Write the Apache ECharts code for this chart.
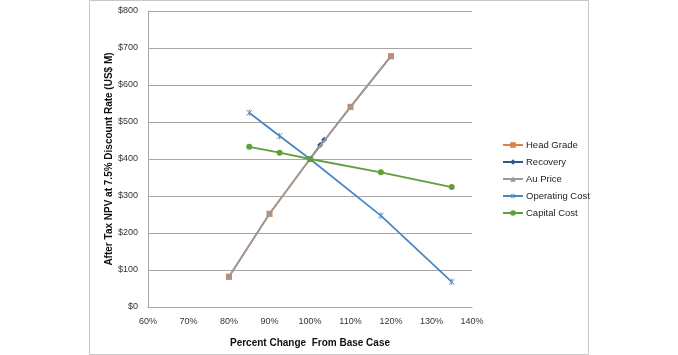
<!DOCTYPE html>
<html><head><meta charset="utf-8">
<script src="https://cdn.jsdelivr.net/npm/echarts@6/dist/echarts.min.js"></script>
<style>html,body{margin:0;padding:0;background:#fff}#c{width:678px;height:355px}</style>
</head><body><div id="c"></div>
<script>
const seriesNames = ['Head Grade','Recovery','Au Price','Operating Cost','Capital Cost'];
const headGrade = [[80,82],[90,252],[100,400],[110,541],[120,678]];
const recovery = [[100,400],[102.5,438],[103.5,452]];
const auPrice = [[80,82],[90,252],[100,400],[110,541],[120,678]];
const operatingCost = [[85,525],[92.5,462],[100,400],[117.5,247],[135,68]];
const capitalCost = [[85,433],[92.5,417],[100,400],[117.5,364],[135,324]];
const xTicks = {min:60,max:140,interval:10};
const yTicks = {min:0,max:800,interval:100};

const colors = ['#D9834A','#2F5597','#9A9A9A','#4A86C5','#5FA03C'];
const symbols = ['rect','diamond','triangle','image://data:image/svg+xml;utf8,'+encodeURIComponent('<svg xmlns="http://www.w3.org/2000/svg" width="10" height="10"><path d="M1 1L9 9M9 1L1 9M5 0V10" stroke="#4A86C5" stroke-width="1.3"/></svg>'),'circle'];
const sizes = [6,6,6,7,6];
const datas = [headGrade,recovery,auPrice,operatingCost,capitalCost];

const chart = echarts.init(document.getElementById('c'));
chart.setOption({
  animation:false,
  textStyle:{fontFamily:'Liberation Sans, Arial, sans-serif'},
  grid:{left:148,right:206,top:11,bottom:48},
  graphic:[{type:'rect',shape:{x:89.5,y:0.5,width:499,height:354},style:{fill:'none',stroke:'#c8c8c8',lineWidth:1},silent:true}],
  legend:{
    orient:'vertical',left:497,top:135,itemGap:7,itemWidth:20,itemHeight:7,
    textStyle:{fontSize:9.5,color:'#222',padding:[0,0,0,-2]},
    data:seriesNames
  },
  xAxis:{type:'value',min:xTicks.min,max:xTicks.max,interval:xTicks.interval,
    name:'Percent Change  From Base Case',nameLocation:'middle',nameGap:31,
    nameTextStyle:{fontWeight:'bold',fontSize:10,color:'#111'},
    axisLine:{show:true,lineStyle:{color:'#a6a6a6'}},axisTick:{show:false},
    splitLine:{show:false},
    axisLabel:{formatter:'{value}%',fontSize:9,color:'#333',margin:10}},
  yAxis:{type:'value',min:yTicks.min,max:yTicks.max,interval:yTicks.interval,
    name:'After Tax NPV at 7.5% Discount Rate (US$ M)',nameLocation:'middle',nameGap:33,
    nameTextStyle:{fontWeight:'bold',fontSize:10,color:'#111'},
    axisLine:{show:true,lineStyle:{color:'#a6a6a6'}},axisTick:{show:false},
    splitLine:{lineStyle:{color:'#a6a6a6'}},
    axisLabel:{formatter:'${value}',fontSize:9,color:'#333',margin:10}},
  series: seriesNames.map((n,i)=>({
    name:n,type:'line',data:datas[i],symbol:symbols[i],symbolSize:sizes[i],showSymbol:true,
    lineStyle:{color:colors[i],width:1.8},itemStyle:{color:colors[i]},z:[2,1,3,5,6][i]
  }))
});
</script></body></html>
